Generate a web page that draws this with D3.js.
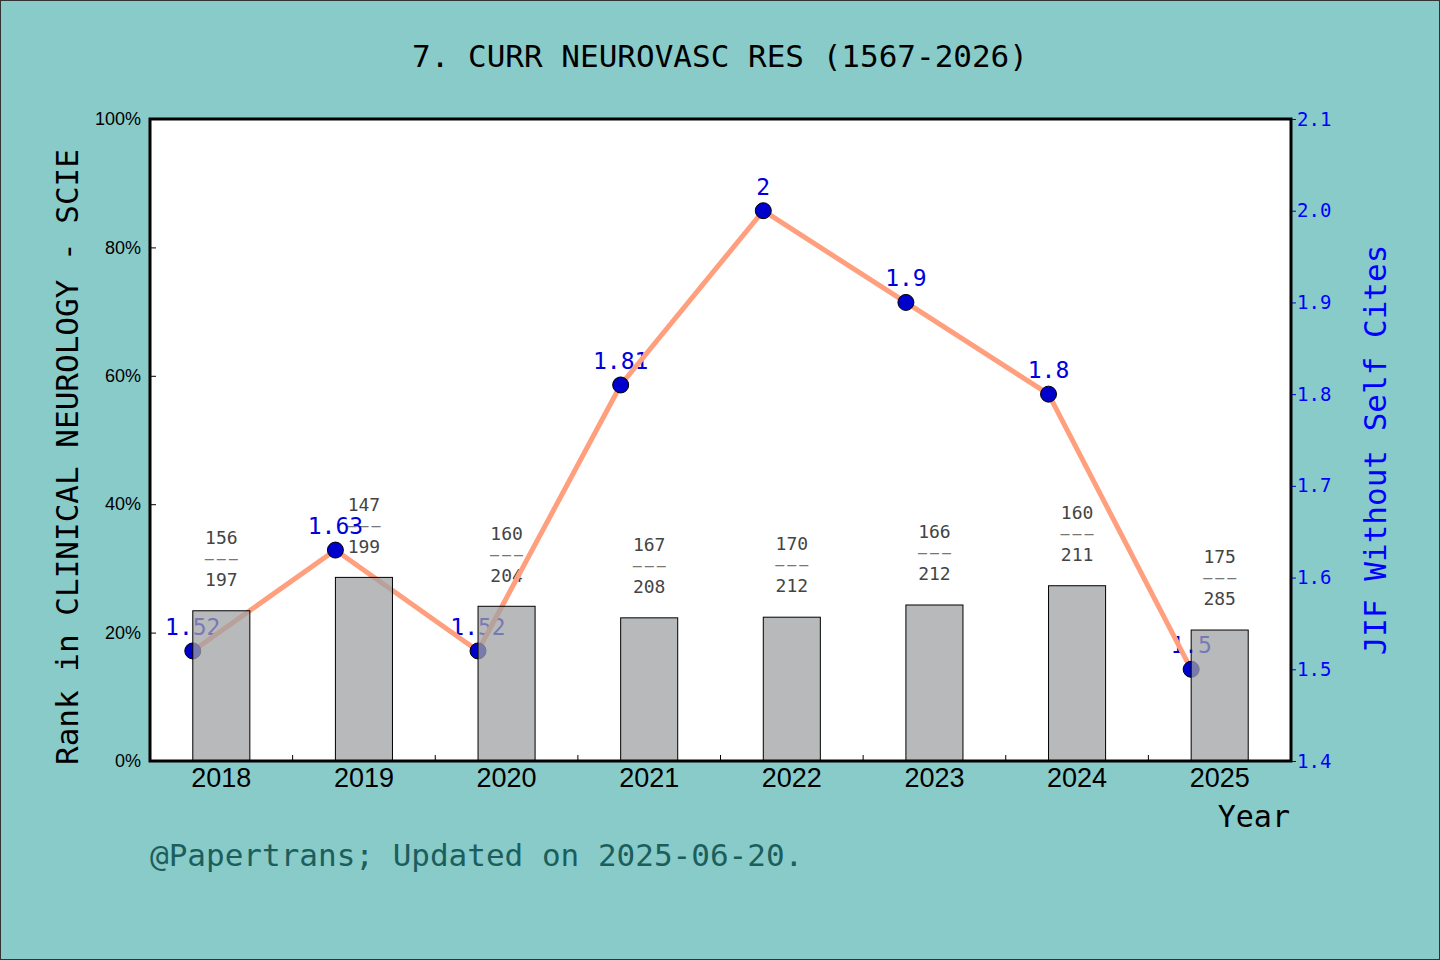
<!DOCTYPE html>
<html>
<head>
<meta charset="utf-8">
<script src="https://cdn.jsdelivr.net/npm/d3@7"></script>
<style>
  html, body { margin: 0; padding: 0; background: #89cbc9; }
  svg { display: block; }
</style>
</head>
<body>
<div id="chart"></div>
<script>
// chart data
const years = [2018, 2019, 2020, 2021, 2022, 2023, 2024, 2025];
const jif = [1.52, 1.63, 1.52, 1.81, 2.0, 1.9, 1.8, 1.5];
const jifLabels = ["1.52", "1.63", "1.52", "1.81", "2", "1.9", "1.8", "1.5"];
const rankNum = [156, 147, 160, 167, 170, 166, 160, 175];
const rankDen = [197, 199, 204, 208, 212, 212, 211, 285];
const barPct = [23.4, 28.6, 24.1, 22.3, 22.4, 24.3, 27.3, 20.4];
const leftTicks = [0, 20, 40, 60, 80, 100];
const rightTicks = [1.4, 1.5, 1.6, 1.7, 1.8, 1.9, 2.0, 2.1];

const width = 1440, height = 960;
const plot = {left: 150, right: 1291, top: 119, bottom: 761};
const mono = "'DejaVu Sans Mono', monospace";
const sans = "'Liberation Sans', Arial, sans-serif";

let svg = d3.select("#chart")
	.append("svg")
	.attr("width", width)
	.attr("height", height);

svg.append("rect")
	.attr("x", 0.5).attr("y", 0.5)
	.attr("width", width - 1).attr("height", height - 1)
	.attr("fill", "#89cbc9")
	.attr("stroke", "#333")
	.attr("stroke-width", 1);

svg.append("rect")
	.attr("x", plot.left).attr("y", plot.top)
	.attr("width", plot.right - plot.left)
	.attr("height", plot.bottom - plot.top)
	.attr("fill", "white");

let x = d3.scaleBand()
	.domain(years)
	.range([plot.left, plot.right])
	.padding(0);
const step = x.step();

let yL = d3.scaleLinear().domain([0, 100]).range([plot.bottom, plot.top]);
let yR = d3.scaleLinear().domain([1.4, 2.1]).range([plot.bottom, plot.top]);

let data = years.map((yr, i) => ({
	year: yr, jif: jif[i], label: jifLabels[i],
	num: rankNum[i], den: rankDen[i], pct: barPct[i]
}));

// rank labels above the bars
let rankG = svg.append("g")
	.attr("font-family", mono)
	.attr("font-size", 18)
	.attr("fill", "#444")
	.attr("text-anchor", "middle");

data.forEach(d => {
	let cx = x(d.year) + step * 0.5;
	let top = yL(d.pct);
	rankG.append("text").attr("x", cx).attr("y", top - 73).attr("dy", "0.35em").text(d.num);
	rankG.append("text")
		.attr("x", cx + 1.5).attr("y", top - 52).attr("dy", "0.35em")
		.attr("font-size", 15)
		.attr("letter-spacing", 3)
		.attr("fill", "#777")
		.text("\u2013\u2013\u2013");
	rankG.append("text").attr("x", cx).attr("y", top - 31).attr("dy", "0.35em").text(d.den);
});

// JIF value labels
svg.append("g")
	.selectAll("text")
	.data(data)
	.enter()
	.append("text")
	.attr("x", d => x(d.year) + step * 0.3)
	.attr("y", d => yR(d.jif) - 16)
	.attr("text-anchor", "middle")
	.attr("font-family", mono)
	.attr("font-size", 23)
	.attr("fill", "#0000dd")
	.text(d => d.label);

// JIF line
let line = d3.line()
	.x(d => x(d.year) + step * 0.3)
	.y(d => yR(d.jif));

svg.append("path")
	.datum(data)
	.attr("d", line)
	.attr("fill", "none")
	.attr("stroke", "#ff9f7d")
	.attr("stroke-width", 5)
	.attr("stroke-linejoin", "round");

svg.append("g")
	.selectAll("circle")
	.data(data)
	.enter()
	.append("circle")
	.attr("cx", d => x(d.year) + step * 0.3)
	.attr("cy", d => yR(d.jif))
	.attr("r", 8)
	.attr("fill", "#0000cc")
	.attr("stroke", "black")
	.attr("stroke-width", 1);

// bars on top, semi-transparent
svg.append("g")
	.selectAll("rect")
	.data(data)
	.enter()
	.append("rect")
	.attr("x", d => x(d.year) + step * 0.3)
	.attr("y", d => yL(d.pct))
	.attr("width", step * 0.4)
	.attr("height", d => plot.bottom - yL(d.pct))
	.attr("fill", "rgb(160,161,164)")
	.attr("fill-opacity", 0.75)
	.attr("stroke", "black")
	.attr("stroke-width", 1);

// left axis, ticks inward
let axL = svg.append("g")
	.attr("transform", `translate(${plot.left}, 0)`)
	.call(d3.axisRight(yL).tickValues(leftTicks).tickSize(6).tickFormat(d => d + "%"));
axL.select(".domain").remove();
axL.selectAll("text")
	.attr("x", -9)
	.attr("text-anchor", "end")
	.attr("font-family", sans)
	.attr("font-size", 18)
	.attr("fill", "black");

// right axis, blue
let axR = svg.append("g")
	.attr("transform", `translate(${plot.right}, 0)`)
	.call(d3.axisRight(yR).tickValues(rightTicks).tickSize(5).tickFormat(d3.format(".1f")));
axR.select(".domain").remove();
axR.selectAll("line").attr("stroke", "#0000ff");
axR.selectAll("text")
	.attr("x", 6)
	.attr("font-family", mono)
	.attr("font-size", 19)
	.attr("fill", "#0000ff");

// bottom axis: inward ticks on band edges, labels at bar centres
let axB = svg.append("g")
	.attr("transform", `translate(0, ${plot.bottom})`);
axB.selectAll("line.edge")
	.data(years.slice(1))
	.enter()
	.append("line")
	.attr("class", "edge")
	.attr("x1", d => x(d)).attr("x2", d => x(d))
	.attr("y1", 0).attr("y2", -6)
	.attr("stroke", "black");

svg.append("g")
	.selectAll("text")
	.data(years)
	.enter()
	.append("text")
	.attr("x", d => x(d) + step * 0.5)
	.attr("y", 787)
	.attr("text-anchor", "middle")
	.attr("font-family", sans)
	.attr("font-size", 27)
	.attr("fill", "black")
	.text(d => d);

// frame
svg.append("rect")
	.attr("x", plot.left).attr("y", plot.top)
	.attr("width", plot.right - plot.left)
	.attr("height", plot.bottom - plot.top)
	.attr("fill", "none")
	.attr("stroke", "black")
	.attr("stroke-width", 3);

// titles
svg.append("text")
	.attr("x", 720).attr("y", 67)
	.attr("text-anchor", "middle")
	.attr("font-family", mono)
	.attr("font-size", 31)
	.attr("fill", "black")
	.text("7. CURR NEUROVASC RES (1567-2026)");

svg.append("text")
	.attr("transform", "translate(78, 457) rotate(-90)")
	.attr("text-anchor", "middle")
	.attr("font-family", mono)
	.attr("font-size", 31)
	.attr("fill", "black")
	.text("Rank in CLINICAL NEUROLOGY - SCIE");

svg.append("text")
	.attr("transform", "translate(1386, 450) rotate(-90)")
	.attr("text-anchor", "middle")
	.attr("font-family", mono)
	.attr("font-size", 31)
	.attr("fill", "#0000ff")
	.text("JIF Without Self Cites");

svg.append("text")
	.attr("x", 1290).attr("y", 827)
	.attr("text-anchor", "end")
	.attr("font-family", mono)
	.attr("font-size", 30)
	.attr("fill", "black")
	.text("Year");

svg.append("text")
	.attr("x", 150).attr("y", 866)
	.attr("font-family", mono)
	.attr("font-size", 31)
	.attr("fill", "#1c5e5c")
	.text("@Papertrans; Updated on 2025-06-20.");
</script>
</body>
</html>
